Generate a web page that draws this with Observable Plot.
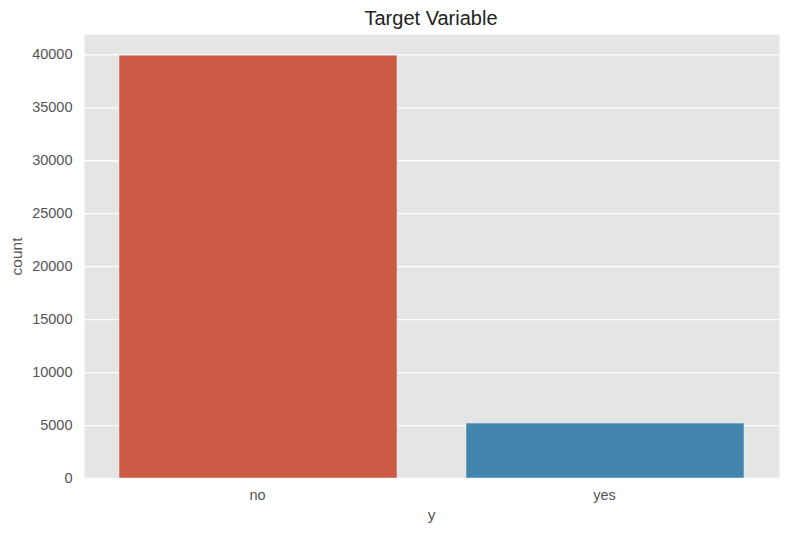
<!DOCTYPE html>
<html><head><meta charset="utf-8">
<script src="https://cdn.jsdelivr.net/npm/d3@7"></script>
<script src="https://cdn.jsdelivr.net/npm/@observablehq/plot@0.6"></script>
<style>html,body{margin:0;padding:0;background:#fff}svg{display:block}</style>
</head><body><div id="c"></div>
<script>
const categories = ["no", "yes"];
const counts = [39922, 5190];
const colors = ["#cb5b45", "#4485ad"];
const yTicks = [0,5000,10000,15000,20000,25000,30000,35000,40000];
const data = categories.map((y,i)=>({y,count:counts[i],color:colors[i]}));
const chart = Plot.plot({
  width:788,height:533,
  marginLeft:84,marginRight:9,marginTop:34,marginBottom:55,
  style:{fontFamily:"Arial, 'Liberation Sans', sans-serif",fontSize:"15px",color:"#555",background:"#fff"},
  x:{domain:categories,paddingInner:0.2,paddingOuter:0.1,align:0.5,label:null},
  y:{domain:[0,41918],label:null},
  marks:[
    Plot.frame({fill:"#e5e5e5",stroke:null}),
    Plot.gridY(yTicks,{stroke:"#fff",strokeOpacity:1,strokeWidth:1.3}),
    Plot.barY(data,{x:"y",y:"count",fill:"color",stroke:"#e9eef2",strokeWidth:0.5}),
    Plot.axisX({tickSize:0,tickPadding:11,fontSize:14.5,label:null,dx:-1}),
    Plot.axisY(yTicks,{tickSize:0,tickPadding:12,fontSize:14.5,label:null,tickFormat:d=>String(d)}),
    Plot.text(["y"],{frameAnchor:"bottom",dy:41,dx:-0.5,fontSize:15.5,fill:"#555"}),
    Plot.text(["count"],{frameAnchor:"left",textAnchor:"middle",dx:-67,rotate:-90,fontSize:15.5,fill:"#555"}),
    Plot.text(["Target Variable"],{frameAnchor:"top",dy:-24,dx:-1,fontSize:20,fill:"#222"})
  ]
});
document.getElementById("c").append(chart);
</script></body></html>
